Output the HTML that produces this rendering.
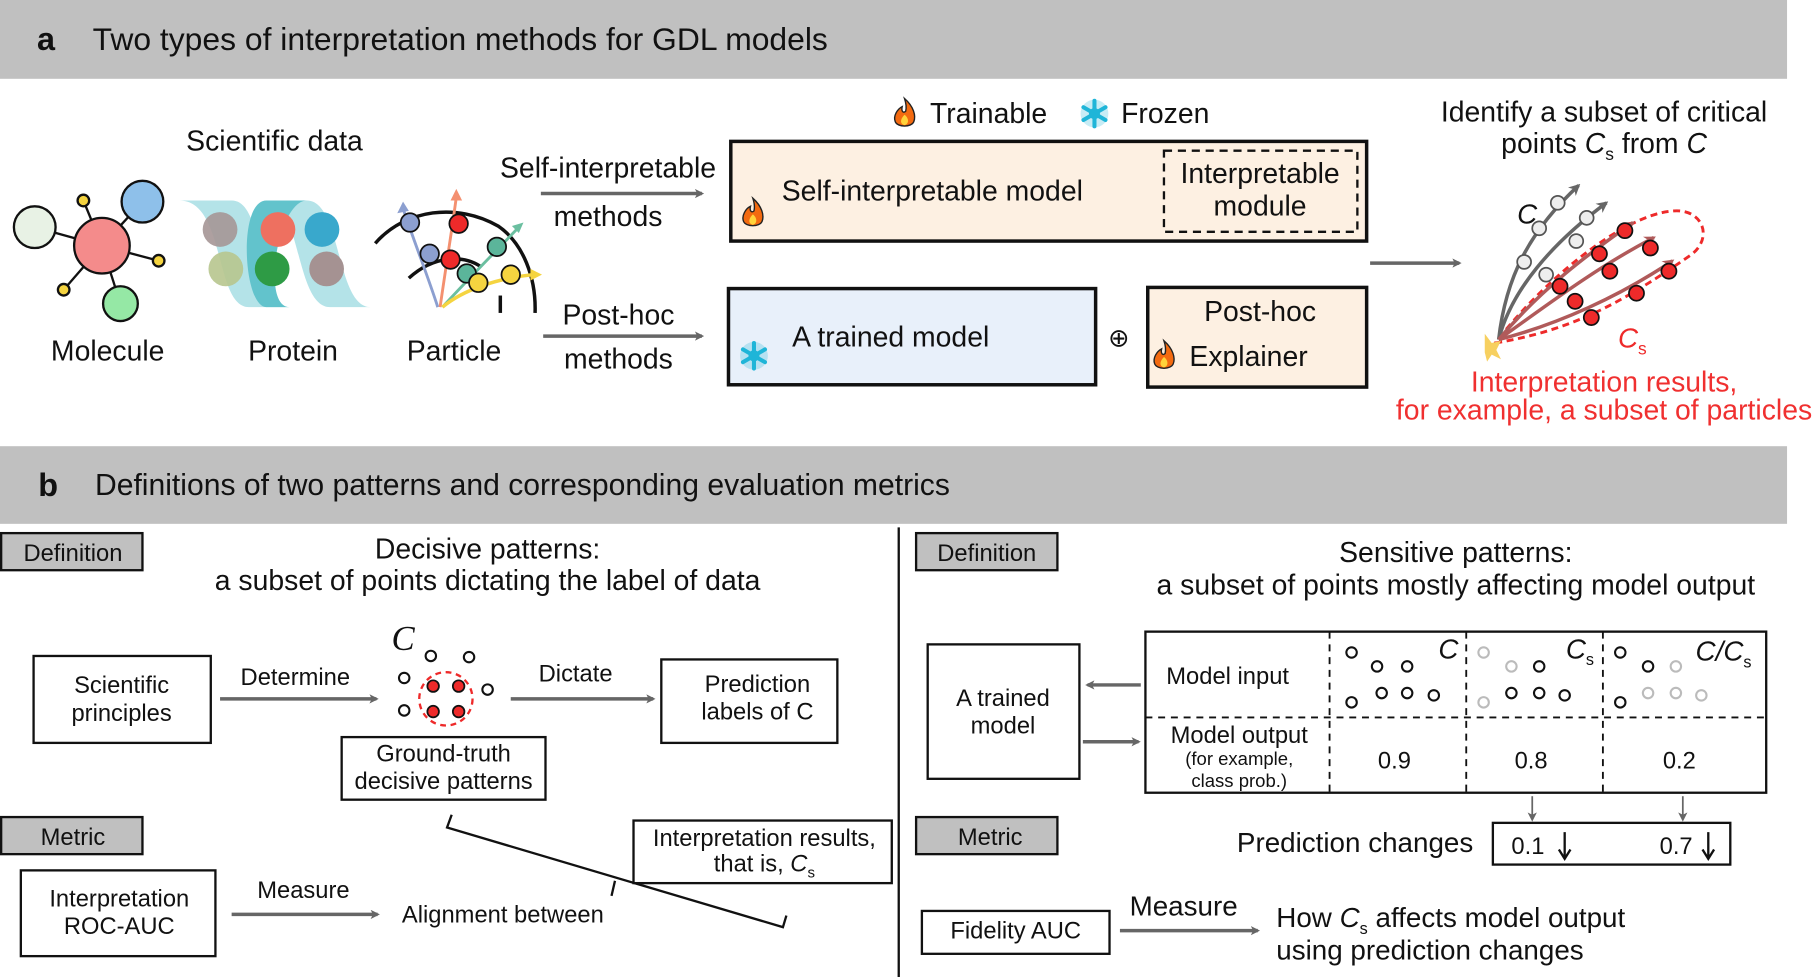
<!DOCTYPE html>
<html><head><meta charset="utf-8"><style>
html,body{margin:0;padding:0;background:#fff;}
svg{display:block;}
text{font-family:"Liberation Sans",sans-serif;fill:#111;}
</style></head><body>
<svg width="1816" height="977" viewBox="0 0 1568 843" preserveAspectRatio="none" xmlns="http://www.w3.org/2000/svg">
<defs>
<marker id="ag" markerWidth="8" markerHeight="8" refX="6" refY="4" orient="auto" markerUnits="userSpaceOnUse"><path d="M0,0 L8,4 L0,8 L2,4 Z" fill="#666"/></marker>
<marker id="ar" markerWidth="10" markerHeight="10" refX="8" refY="5" orient="auto" markerUnits="userSpaceOnUse"><path d="M0,0 L10,5 L0,10 L3,5 Z" fill="#b05a5a"/></marker>
<marker id="agr" markerWidth="10" markerHeight="10" refX="8" refY="5" orient="auto" markerUnits="userSpaceOnUse"><path d="M0,0 L10,5 L0,10 L3,5 Z" fill="#666"/></marker>
<g id="flame"><path d="M0,-13 C8,-6 10,2 8,7 C6,12 -6,12 -8,7 C-10,2 -6,-4 -2,-6 C-3,-2 -1,0 1,-2 C2,-6 1,-10 0,-13 Z" fill="#f36a10" stroke="#222" stroke-width="1.2"/><path d="M0,1 C4,4 4,9 0,10 C-4,9 -4,5 0,1 Z" fill="#ffd33a"/></g>
<g id="snow"><circle r="12" fill="#1fb5d8" opacity="0.25"/><g stroke="#1fb5d8" stroke-width="3.5" stroke-linecap="round"><line x1="0" y1="-11" x2="0" y2="11"/><line x1="-9.5" y1="-5.5" x2="9.5" y2="5.5"/><line x1="-9.5" y1="5.5" x2="9.5" y2="-5.5"/><circle r="3" fill="#1fb5d8"/></g></g>
</defs>

<rect x="0" y="0" width="1543" height="68" fill="#c0c0c0"/>
<text x="32" y="43" font-size="28" font-weight="bold">a</text>
<text x="80" y="43" font-size="27.5">Two types of interpretation methods for GDL models</text>

<text x="237" y="130" font-size="24.5" text-anchor="middle">Scientific data</text>
<g stroke="#111" stroke-width="2">
<line x1="88" y1="212" x2="30" y2="196"/><line x1="88" y1="212" x2="123" y2="174"/><line x1="88" y1="212" x2="104" y2="262"/>
<line x1="88" y1="212" x2="72" y2="173"/><line x1="88" y1="212" x2="137" y2="225"/><line x1="88" y1="212" x2="55" y2="250"/>
<circle cx="30" cy="196" r="18" fill="#e8f2e5"/><circle cx="123" cy="174" r="18" fill="#8ec0ea"/><circle cx="104" cy="262" r="15" fill="#95e8a5"/>
<circle cx="88" cy="212" r="24" fill="#f48b8b"/>
<circle cx="72" cy="173" r="5" fill="#f5d440"/><circle cx="137" cy="225" r="5" fill="#f5d440"/><circle cx="55" cy="250" r="5" fill="#f5d440"/>
</g>
<text x="93" y="311" font-size="24.5" text-anchor="middle">Molecule</text>
<path d="M155,173 L200,173 C230,173 220,265 250,265 L215,265 C185,265 195,173 155,173 Z" fill="#b4e3e8"/>
<path d="M230,173 L265,173 C295,173 290,265 320,265 L285,265 C255,265 260,173 230,173 Z" fill="#b4e3e8"/>
<path d="M265,173 L230,173 C205,173 210,265 230,265 L250,265 C225,265 240,173 265,173 Z" fill="#62c3cc"/>
<circle cx="190" cy="198" r="15" fill="#a59696" opacity=".9"/><circle cx="195" cy="232" r="15" fill="#b7c58e" opacity=".9"/>
<circle cx="240" cy="198" r="15" fill="#ee7060"/><circle cx="235" cy="232" r="15" fill="#2e9b45"/>
<circle cx="278" cy="198" r="15" fill="#39a8cc"/><circle cx="282" cy="232" r="15" fill="#a59292"/>
<text x="253" y="311" font-size="24.5" text-anchor="middle">Protein</text>
<path d="M324,210 C350,180 395,175 430,195 C452,210 463,240 462,270" fill="none" stroke="#111" stroke-width="3"/>
<path d="M353,240 C375,220 400,220 415,230" fill="none" stroke="#111" stroke-width="3"/>
<line x1="432" y1="255" x2="432" y2="270" stroke="#111" stroke-width="3"/>
<path d="M378,265 C370,240 360,215 348,180" fill="none" stroke="#8c9fd0" stroke-width="2.5"/><path d="M348,174 l-5,10 l10,-2z" fill="#8c9fd0"/>
<path d="M380,265 C385,230 390,200 394,170" fill="none" stroke="#f49070" stroke-width="2.5"/><path d="M394,163 l-5,10 l10,0z" fill="#f49070"/>
<path d="M382,265 C405,240 425,220 448,196" fill="none" stroke="#6bbfa0" stroke-width="2.5"/><path d="M452,192 l-10,3 l6,6z" fill="#6bbfa0"/>
<path d="M382,265 C400,250 430,240 460,237" fill="none" stroke="#f5d440" stroke-width="3"/><path d="M468,237 l-10,-5 l0,10z" fill="#f5d440"/>
<g stroke="#111" stroke-width="1.5">
<circle cx="354" cy="192" r="8" fill="#8c9fd0"/><circle cx="396" cy="193" r="8" fill="#ee2a2a"/><circle cx="429" cy="213" r="8" fill="#5bb59a"/>
<circle cx="371" cy="219" r="8" fill="#8c9fd0"/><circle cx="389" cy="224" r="8" fill="#ee2a2a"/><circle cx="403" cy="236" r="8" fill="#5bb59a"/>
<circle cx="413" cy="244" r="8" fill="#f5d440"/><circle cx="441" cy="237" r="8" fill="#f5d440"/>
</g>
<text x="392" y="311" font-size="24.5" text-anchor="middle">Particle</text>

<text x="525" y="153" font-size="24.5" text-anchor="middle">Self-interpretable</text>
<line x1="467" y1="167" x2="606" y2="167" stroke="#666" stroke-width="3" marker-end="url(#ag)"/>
<text x="525" y="195" font-size="24.5" text-anchor="middle">methods</text>
<text x="534" y="280" font-size="24.5" text-anchor="middle">Post-hoc</text>
<line x1="469" y1="290" x2="606" y2="290" stroke="#666" stroke-width="3" marker-end="url(#ag)"/>
<text x="534" y="318" font-size="24.5" text-anchor="middle">methods</text>

<use href="#flame" x="781" y="98"/>
<text x="803" y="106" font-size="24.5">Trainable</text>
<use href="#snow" x="945" y="98"/>
<text x="968" y="106" font-size="24.5">Frozen</text>

<rect x="631" y="122" width="549" height="86" fill="#fdf0e2" stroke="#111" stroke-width="3"/>
<use href="#flame" x="650" y="184"/>
<text x="675" y="173" font-size="24.5">Self-interpretable model</text>
<rect x="1005" y="130" width="167" height="70" fill="none" stroke="#111" stroke-width="2" stroke-dasharray="7,5"/>
<text x="1088" y="158" font-size="24.5" text-anchor="middle">Interpretable</text>
<text x="1088" y="186" font-size="24.5" text-anchor="middle">module</text>

<rect x="629" y="249" width="317" height="83" fill="#e8f0fa" stroke="#111" stroke-width="3"/>
<use href="#snow" x="651" y="307"/>
<text x="684" y="299" font-size="24.5">A trained model</text>
<text x="966" y="299" font-size="22" text-anchor="middle">⊕</text>
<rect x="991" y="248" width="189" height="86" fill="#fdf0e2" stroke="#111" stroke-width="3"/>
<text x="1088" y="277" font-size="24.5" text-anchor="middle">Post-hoc</text>
<use href="#flame" x="1005" y="307"/>
<text x="1027" y="316" font-size="24.5">Explainer</text>
<line x1="1183" y1="227" x2="1260" y2="227" stroke="#666" stroke-width="3" marker-end="url(#ag)"/>

<text x="1385" y="105" font-size="24.5" text-anchor="middle">Identify a subset of critical</text>
<text x="1385" y="132" font-size="24.5" text-anchor="middle">points <tspan font-style="italic">C</tspan><tspan font-size="15" dy="6">s</tspan><tspan dy="-6"> from </tspan><tspan font-style="italic">C</tspan></text>
<path d="M1291,296 C1355,285 1395,265 1460,220 C1480,205 1470,180 1445,182 C1400,185 1330,245 1291,296 Z" fill="none" stroke="#ee2a2a" stroke-width="2.5" stroke-dasharray="6,4"/>
<g fill="none" stroke-width="3">
<path d="M1294,293 C1300,240 1320,200 1363,160" stroke="#666" marker-end="url(#agr)"/>
<path d="M1294,293 C1305,250 1340,210 1387,175" stroke="#666" marker-end="url(#agr)"/>
<path d="M1294,293 C1330,250 1370,220 1410,192" stroke="#b05a5a" marker-end="url(#ar)"/>
<path d="M1294,293 C1340,260 1380,230 1428,205" stroke="#b05a5a" marker-end="url(#ar)"/>
<path d="M1294,293 C1345,280 1400,255 1444,225" stroke="#b05a5a" marker-end="url(#ar)"/>
</g>
<g stroke="#555" stroke-width="1.5" fill="#eee">
<circle cx="1345" cy="175" r="6"/><circle cx="1329" cy="197" r="6"/><circle cx="1316" cy="226" r="6"/>
<circle cx="1370" cy="188" r="6"/><circle cx="1361" cy="208" r="6"/><circle cx="1335" cy="237" r="6"/>
</g>
<g stroke="#111" stroke-width="1.5" fill="#ee2a2a">
<circle cx="1381" cy="219" r="6.5"/><circle cx="1347" cy="247" r="6.5"/><circle cx="1360" cy="260" r="6.5"/><circle cx="1374" cy="274" r="6.5"/>
<circle cx="1403" cy="199" r="6.5"/><circle cx="1390" cy="234" r="6.5"/><circle cx="1413" cy="253" r="6.5"/>
<circle cx="1425" cy="214" r="6.5"/><circle cx="1441" cy="234" r="6.5"/>
</g>
<path d="M1282,288 l6,8 l8,-2 l-4,8 l4,8 l-8,-4 l-4,6 l-2,-8 z" fill="#f7d060"/>
<text x="1310" y="193" font-size="24" font-style="italic">C</text>
<text x="1397" y="300" font-size="24" font-style="italic" style="fill:#ee2a2a">C<tspan font-size="15" dy="6" font-style="normal">s</tspan></text>
<text x="1385" y="338" font-size="24.5" text-anchor="middle" style="fill:#f03030">Interpretation results,</text>
<text x="1385" y="362" font-size="24.5" text-anchor="middle" style="fill:#f03030">for example, a subset of particles</text>

<rect x="0" y="385" width="1543" height="67" fill="#c0c0c0"/>
<text x="33" y="428" font-size="28" font-weight="bold">b</text>
<text x="82" y="427" font-size="26">Definitions of two patterns and corresponding evaluation metrics</text>

<rect x="1" y="460" width="122" height="32" fill="#c0c0c0" stroke="#111" stroke-width="2"/>
<text x="63" y="484" font-size="20.5" text-anchor="middle">Definition</text>
<text x="421" y="482" font-size="24.5" text-anchor="middle">Decisive patterns:</text>
<text x="421" y="509" font-size="24.5" text-anchor="middle">a subset of points dictating the label of data</text>

<rect x="29" y="566" width="153" height="75" fill="#fff" stroke="#111" stroke-width="2"/>
<text x="105" y="598" font-size="20.5" text-anchor="middle">Scientific</text>
<text x="105" y="622" font-size="20.5" text-anchor="middle">principles</text>
<text x="255" y="591" font-size="20.5" text-anchor="middle">Determine</text>
<line x1="190" y1="603" x2="325" y2="603" stroke="#666" stroke-width="3" marker-end="url(#ag)"/>
<text x="338" y="561" font-size="30" font-style="italic" style="font-family:'Liberation Serif',serif">C</text>
<g fill="#fff" stroke="#111" stroke-width="1.8">
<circle cx="372" cy="566" r="4.5"/><circle cx="405" cy="567" r="4.5"/><circle cx="349" cy="585" r="4.5"/><circle cx="421" cy="595" r="4.5"/><circle cx="349" cy="613" r="4.5"/>
</g>
<g fill="#ee2a2a" stroke="#111" stroke-width="1.5">
<circle cx="374" cy="592" r="5"/><circle cx="396" cy="592" r="5"/><circle cx="374" cy="614" r="5"/><circle cx="396" cy="614" r="5"/>
</g>
<circle cx="385" cy="603" r="23" fill="none" stroke="#ee2a2a" stroke-width="2" stroke-dasharray="5,4"/>
<rect x="295" y="636" width="176" height="54" fill="#fff" stroke="#111" stroke-width="2"/>
<text x="383" y="657" font-size="20.5" text-anchor="middle">Ground-truth</text>
<text x="383" y="681" font-size="20.5" text-anchor="middle">decisive patterns</text>
<text x="497" y="588" font-size="20.5" text-anchor="middle">Dictate</text>
<line x1="441" y1="603" x2="564" y2="603" stroke="#666" stroke-width="3" marker-end="url(#ag)"/>
<rect x="571" y="569" width="152" height="72" fill="#fff" stroke="#111" stroke-width="2"/>
<text x="654" y="597" font-size="20.5" text-anchor="middle">Prediction</text>
<text x="654" y="621" font-size="20.5" text-anchor="middle">labels of C</text>

<rect x="1" y="705" width="122" height="32" fill="#c0c0c0" stroke="#111" stroke-width="2"/>
<text x="63" y="729" font-size="20.5" text-anchor="middle">Metric</text>
<rect x="18" y="751" width="168" height="74" fill="#fff" stroke="#111" stroke-width="2"/>
<text x="103" y="782" font-size="20.5" text-anchor="middle">Interpretation</text>
<text x="103" y="806" font-size="20.5" text-anchor="middle">ROC-AUC</text>
<text x="262" y="775" font-size="20.5" text-anchor="middle">Measure</text>
<line x1="200" y1="789" x2="326" y2="789" stroke="#666" stroke-width="3" marker-end="url(#ag)"/>
<text x="347" y="796" font-size="20.5">Alignment between</text>
<polyline points="390,703 386,714 676,800 679,790" fill="none" stroke="#111" stroke-width="2"/>
<line x1="531" y1="760" x2="528" y2="773" stroke="#111" stroke-width="2"/>
<rect x="547" y="708" width="223" height="54" fill="#fff" stroke="#111" stroke-width="2"/>
<text x="660" y="730" font-size="20.5" text-anchor="middle">Interpretation results,</text>
<text x="660" y="752" font-size="20.5" text-anchor="middle">that is, <tspan font-style="italic">C</tspan><tspan font-size="13" dy="5">s</tspan></text>
<line x1="776" y1="455" x2="776" y2="843" stroke="#111" stroke-width="2"/>

<rect x="791" y="460" width="122" height="32" fill="#c0c0c0" stroke="#111" stroke-width="2"/>
<text x="852" y="484" font-size="20.5" text-anchor="middle">Definition</text>
<text x="1257" y="485" font-size="24.5" text-anchor="middle">Sensitive patterns:</text>
<text x="1257" y="513" font-size="24.5" text-anchor="middle">a subset of points mostly affecting model output</text>
<rect x="801" y="556" width="131" height="116" fill="#fff" stroke="#111" stroke-width="2"/>
<text x="866" y="609" font-size="20.5" text-anchor="middle">A trained</text>
<text x="866" y="633" font-size="20.5" text-anchor="middle">model</text>
<line x1="985" y1="591" x2="939" y2="591" stroke="#666" stroke-width="3" marker-end="url(#ag)"/>
<line x1="935" y1="640" x2="983" y2="640" stroke="#666" stroke-width="3" marker-end="url(#ag)"/>
<rect x="989" y="545" width="536" height="139" fill="#fff" stroke="#111" stroke-width="2"/>
<g stroke="#111" stroke-width="1.6" stroke-dasharray="6,5">
<line x1="989" y1="619" x2="1525" y2="619"/><line x1="1148" y1="545" x2="1148" y2="684"/><line x1="1266" y1="545" x2="1266" y2="684"/><line x1="1384" y1="545" x2="1384" y2="684"/>
</g>
<text x="1007" y="590" font-size="20.5">Model input</text>
<text x="1070" y="641" font-size="20.5" text-anchor="middle">Model output</text>
<text x="1070" y="660" font-size="16" text-anchor="middle">(for example,</text>
<text x="1070" y="679" font-size="16" text-anchor="middle">class prob.)</text>
<g fill="none" stroke-width="1.8">
<g stroke="#111"><circle cx="1167" cy="563" r="4.5"/><circle cx="1189" cy="575" r="4.5"/><circle cx="1215" cy="575" r="4.5"/><circle cx="1167" cy="606" r="4.5"/><circle cx="1193" cy="598" r="4.5"/><circle cx="1215" cy="598" r="4.5"/><circle cx="1238" cy="600" r="4.5"/></g>
<g stroke="#bbb"><circle cx="1281" cy="563" r="4.5"/><circle cx="1305" cy="575" r="4.5"/><circle cx="1281" cy="606" r="4.5"/></g>
<g stroke="#111"><circle cx="1329" cy="575" r="4.5"/><circle cx="1305" cy="598" r="4.5"/><circle cx="1329" cy="598" r="4.5"/><circle cx="1351" cy="600" r="4.5"/></g>
<g stroke="#111"><circle cx="1399" cy="563" r="4.5"/><circle cx="1423" cy="575" r="4.5"/><circle cx="1399" cy="606" r="4.5"/></g>
<g stroke="#bbb"><circle cx="1447" cy="575" r="4.5"/><circle cx="1423" cy="598" r="4.5"/><circle cx="1447" cy="598" r="4.5"/><circle cx="1469" cy="600" r="4.5"/></g>
</g>
<text x="1242" y="568" font-size="24" font-style="italic">C</text>
<text x="1352" y="568" font-size="24" font-style="italic">C<tspan font-size="14" dy="6" font-style="normal">s</tspan></text>
<text x="1464" y="570" font-size="24" font-style="italic">C/C<tspan font-size="14" dy="6" font-style="normal">s</tspan></text>
<text x="1204" y="663" font-size="20.5" text-anchor="middle">0.9</text>
<text x="1322" y="663" font-size="20.5" text-anchor="middle">0.8</text>
<text x="1450" y="663" font-size="20.5" text-anchor="middle">0.2</text>
<line x1="1323" y1="687" x2="1323" y2="707" stroke="#666" stroke-width="1.5" marker-end="url(#ag)"/>
<line x1="1453" y1="687" x2="1453" y2="707" stroke="#666" stroke-width="1.5" marker-end="url(#ag)"/>
<text x="1068" y="735" font-size="24">Prediction changes</text>
<rect x="1289" y="710" width="205" height="36" fill="#fff" stroke="#111" stroke-width="2"/>
<text x="1305" y="737" font-size="20.5">0.1</text>
<text x="1433" y="737" font-size="20.5">0.7</text>
<g stroke="#111" stroke-width="2"><line x1="1351" y1="718" x2="1351" y2="739"/><line x1="1475" y1="718" x2="1475" y2="739"/></g>
<path d="M1346,733 l5,8 l5,-8" fill="none" stroke="#111" stroke-width="2"/><path d="M1470,733 l5,8 l5,-8" fill="none" stroke="#111" stroke-width="2"/>
<rect x="791" y="705" width="122" height="32" fill="#c0c0c0" stroke="#111" stroke-width="2"/>
<text x="855" y="729" font-size="20.5" text-anchor="middle">Metric</text>
<rect x="796" y="786" width="162" height="37" fill="#fff" stroke="#111" stroke-width="2"/>
<text x="877" y="810" font-size="20.5" text-anchor="middle">Fidelity AUC</text>
<text x="1022" y="790" font-size="24" text-anchor="middle">Measure</text>
<line x1="967" y1="803" x2="1086" y2="803" stroke="#666" stroke-width="3" marker-end="url(#ag)"/>
<text x="1102" y="800" font-size="24">How <tspan font-style="italic">C</tspan><tspan font-size="14" dy="6">s</tspan><tspan dy="-6"> affects model output</tspan></text>
<text x="1102" y="828" font-size="24">using prediction changes</text>
</svg>
</body></html>
